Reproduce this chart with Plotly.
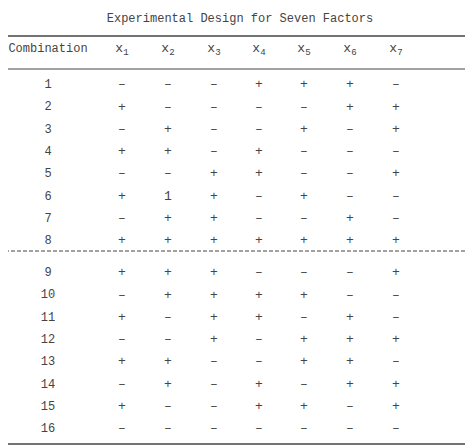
import plotly.graph_objects as go

title = "Experimental Design for Seven Factors"
headers = ["x<sub>1</sub>", "x<sub>2</sub>", "x<sub>3</sub>", "x<sub>4</sub>", "x<sub>5</sub>", "x<sub>6</sub>", "x<sub>7</sub>"]
combinations = list(range(1, 17))
x1 = ["–", "+", "–", "+", "–", "+", "–", "+", "+", "–", "+", "–", "+", "–", "+", "–"]
x2 = ["–", "–", "+", "+", "–", "1", "+", "+", "+", "+", "–", "–", "+", "+", "–", "–"]
x3 = ["–", "–", "–", "–", "+", "+", "+", "+", "+", "+", "+", "+", "–", "–", "–", "–"]
x4 = ["+", "–", "–", "+", "+", "–", "–", "+", "–", "+", "+", "–", "–", "+", "+", "–"]
x5 = ["+", "–", "+", "–", "–", "+", "–", "+", "–", "+", "–", "+", "+", "–", "+", "–"]
x6 = ["+", "+", "–", "–", "–", "–", "+", "+", "–", "–", "+", "+", "+", "+", "–", "–"]
x7 = ["–", "+", "+", "–", "+", "–", "–", "+", "+", "–", "–", "+", "–", "+", "+", "–"]
columns = [x1, x2, x3, x4, x5, x6, x7]

col_x = [122, 168, 214, 259, 304, 350, 396]
def row_y(i):
    return 84 + (i - 1) * 22.3 if i <= 8 else 272 + (i - 9) * 22.3

FONT = "Liberation Mono, DejaVu Sans Mono, monospace"
C = "#444444"
fig = go.Figure()
fig.add_trace(go.Scatter(x=[48] * 16, y=[row_y(i) for i in combinations], mode="text",
                         text=[str(c) for c in combinations], textfont=dict(family=FONT, size=12, color=C),
                         hoverinfo="skip"))
for cx, col in zip(col_x, columns):
    fig.add_trace(go.Scatter(x=[cx] * 16, y=[row_y(i) for i in combinations], mode="text",
                             text=col, textfont=dict(family=FONT, size=13, color=C), hoverinfo="skip"))
fig.add_trace(go.Scatter(x=col_x, y=[48] * 7, mode="text", text=headers,
                         textfont=dict(family=FONT, size=13, color=C), hoverinfo="skip"))
fig.add_trace(go.Scatter(x=[48], y=[48], mode="text", text=["Combination"],
                         textfont=dict(family=FONT, size=12, color=C), hoverinfo="skip"))
fig.add_trace(go.Scatter(x=[240], y=[18], mode="text", text=[title],
                         textfont=dict(family=FONT, size=12, color=C), hoverinfo="skip"))

for y, dash, w in [(35, "solid", 1.5), (68, "solid", 1.2), (250, "4px,2px", 1.2), (443, "solid", 1.5)]:
    fig.add_shape(type="line", x0=5, x1=465, y0=y, y1=y, xref="x", yref="y",
                  line=dict(color=C, width=w, dash=dash))

fig.update_layout(width=474, height=448, margin=dict(l=0, r=0, t=0, b=0),
                  plot_bgcolor="white", paper_bgcolor="white", showlegend=False,
                  xaxis=dict(range=[8, 482], visible=False, fixedrange=True),
                  yaxis=dict(range=[455, 7], visible=False, fixedrange=True))
fig.write_html("out.html")
